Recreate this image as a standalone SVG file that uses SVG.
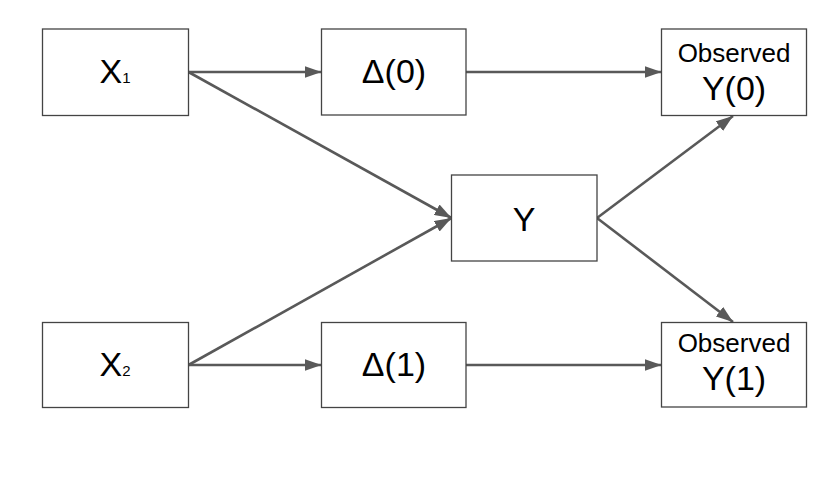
<svg xmlns="http://www.w3.org/2000/svg" width="839" height="478" viewBox="0 0 839 478">
<defs>
<style>
.box{fill:#fff;stroke:#444;stroke-width:1.3}
.t{font-family:"Liberation Sans",Arial,sans-serif;fill:#000;text-anchor:middle}
.big{font-size:34px}
.sm{font-size:26px}
.sub{font-size:15px}
.e{stroke:#595959;stroke-width:2.6;fill:none;marker-end:url(#ah)}
</style>
<marker id="ah" viewBox="0 0 17 12" refX="17" refY="6" markerWidth="17" markerHeight="12" markerUnits="userSpaceOnUse" orient="auto">
<path d="M0,0 L17,6 L0,12 z" fill="#595959"/>
</marker>
</defs>
<rect width="839" height="478" fill="#fff"/>
<g id="connectors">
<line class="e" x1="188.5" y1="72" x2="321.5" y2="72"/>
<line class="e" x1="466" y1="72" x2="661.5" y2="72"/>
<line class="e" x1="188.5" y1="72" x2="451.5" y2="218"/>
<line class="e" x1="188.5" y1="365" x2="451.5" y2="218"/>
<line class="e" x1="188.5" y1="365" x2="321.5" y2="365"/>
<line class="e" x1="466" y1="365" x2="661.5" y2="365"/>
<line class="e" x1="597" y1="218" x2="733" y2="116"/>
<line class="e" x1="597" y1="218" x2="733" y2="322"/>
</g>
<g id="X1">
<rect class="box" x="42.5" y="29" width="146" height="86.5"/>
<text class="t big" x="115" y="83">X<tspan class="sub">1</tspan></text>
</g>
<g id="D0">
<rect class="box" x="321.5" y="29" width="144.5" height="86"/>
<text class="t big" x="394" y="83">Δ(0)</text>
</g>
<g id="OY0">
<rect class="box" x="661.5" y="29" width="145" height="86.5"/>
<text class="t sm" x="734" y="62">Observed</text>
<text class="t big" x="734" y="100">Y(0)</text>
</g>
<g id="Y">
<rect class="box" x="451.5" y="175" width="145.5" height="86"/>
<text class="t big" x="524" y="231">Y</text>
</g>
<g id="X2">
<rect class="box" x="42.5" y="322.5" width="146" height="85"/>
<text class="t big" x="115" y="376">X<tspan class="sub">2</tspan></text>
</g>
<g id="D1">
<rect class="box" x="321.5" y="322.5" width="144.5" height="85"/>
<text class="t big" x="394" y="376">Δ(1)</text>
</g>
<g id="OY1">
<rect class="box" x="661.5" y="322.5" width="145" height="84.5"/>
<text class="t sm" x="734" y="352">Observed</text>
<text class="t big" x="734" y="390">Y(1)</text>
</g>
</svg>
